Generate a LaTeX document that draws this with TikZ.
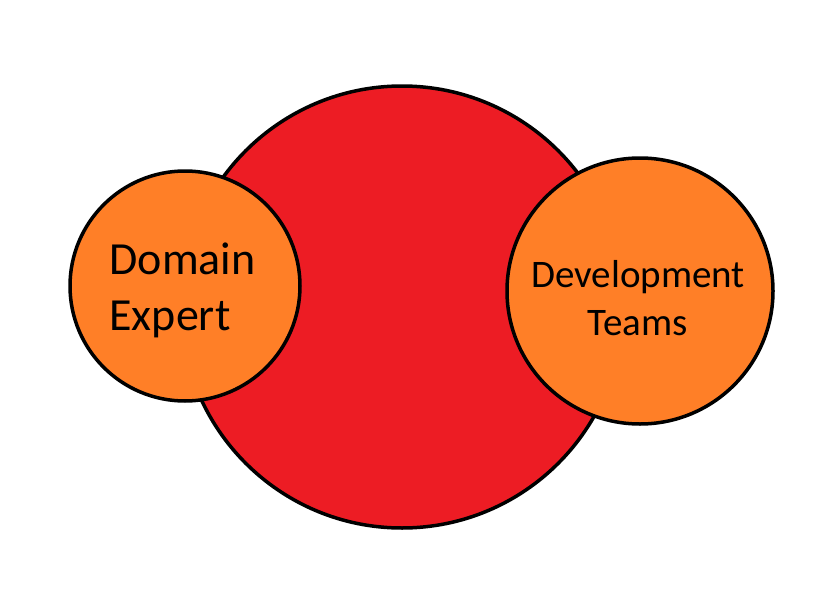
\documentclass[tikz,border=0pt]{standalone}
\usepackage{fontspec}
\setmainfont{Carlito}
\tikzset{
  blob/.style={circle, draw=black, line width=3.5pt, inner sep=0pt},
  label/.style={font=\fontsize{#1}{#1}\selectfont, align=left, text=black}
}
\definecolor{bigred}{HTML}{ED1C24}
\definecolor{orng}{HTML}{FF7F27}
\begin{document}
\begin{tikzpicture}[x=1pt,y=-1pt]
    \useasboundingbox (0,0) rectangle (822,613);
    % the big circle behind, the two people circles on top
    \node[blob, fill=bigred, minimum size=442pt] (core) at (402,307) {};
    \node[blob, fill=orng, minimum size=230pt] (expert) at (185,286) {};
    \node[blob, fill=orng, minimum size=266pt] (teams) at (640,291) {};
    \node[label=46, anchor=west, text width=170pt,
          font={\fontsize{46}{56}\selectfont}] (expertText) at (106,290)
          {Domain\\Expert};
    \node[label=39, align=center,
          font={\fontsize{39}{48}\selectfont}] (teamsText) at (638,298)
          {Development\\Teams};
\end{tikzpicture}
\end{document}
